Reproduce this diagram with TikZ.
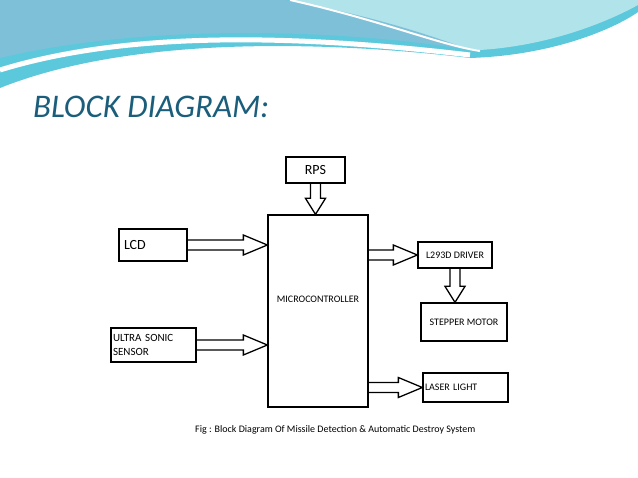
\documentclass[tikz,border=0pt]{standalone}
\usepackage{fontspec}
\setmainfont{Carlito}
\usetikzlibrary{calc}
\definecolor{ttl}{HTML}{1B5E7B}
\definecolor{bA}{HTML}{7FC0D9}
\definecolor{bB}{HTML}{B0E3EA}
\definecolor{bC}{HTML}{5CC8DC}
\newcommand\hArr[2]{\draw[line width=1.3pt] let \p1=(#1), \p2=(#2) in (\x1,\y1+5pt) -- (\x2-24pt,\y1+5pt) -- (\x2-24pt,\y1+10pt) -- (\x2,\y1) -- (\x2-24pt,\y1-10pt) -- (\x2-24pt,\y1-5pt) -- (\x1,\y1-5pt);}
\newcommand\vArr[2]{\draw[line width=1.3pt] let \p1=(#1), \p2=(#2) in (\x1-5pt,\y1) -- (\x1-5pt,\y2+16pt) -- (\x1-10pt,\y2+16pt) -- (\x1,\y2) -- (\x1+10pt,\y2+16pt) -- (\x1+5pt,\y2+16pt) -- (\x1+5pt,\y1);}
\begin{document}
\begin{tikzpicture}[x=1pt,y=-1pt,
  box/.style={draw,line width=1.3pt,rectangle,inner sep=0pt,font=\fontsize{10}{11}\selectfont},
  big/.style={font=\fontsize{14}{15}\selectfont}]
\useasboundingbox[fill=white] (0,0) rectangle (638,478);
% banner
\fill[bC] (0,0) -- (0,88) .. controls (120,40) and (300,38) .. (470,58) .. controls (560,55) and (620,25) .. (638,12) -- (638,0) -- cycle;
\fill[bB] (290,0) .. controls (380,20) and (440,45) .. (480,50) .. controls (560,45) and (620,15) .. (638,5) -- (638,0) -- cycle;
\fill[bA] (0,0) -- (285,0) .. controls (370,15) and (430,35) .. (470,50) .. controls (350,30) and (150,22) .. (0,58) -- cycle;
\draw[white,line width=5pt] (0,70) .. controls (130,30) and (300,35) .. (470,55);
\draw[white,line width=2pt] (290,0) .. controls (380,20) and (440,45) .. (480,51);
\node[anchor=base west,inner sep=0pt,text=ttl,font=\fontsize{33}{36}\selectfont\itshape] (title) at (33,118) {BLOCK DIAGRAM:};
% blocks
\node[box,big,minimum width=59,minimum height=26] (rps) at (315.5,170) {RPS};
\node[box,minimum width=100,minimum height=192] (mc) at (318,311) {};
\node[font=\fontsize{10}{11}\selectfont] (mct) at (318,299) {MICROCONTROLLER};
\node[box,big,minimum width=68,minimum height=32,text width=58,align=left] (lcd) at (153,245) {LCD};
\node[box,minimum width=85,minimum height=34,text width=81,align=left,font=\fontsize{11}{14}\selectfont] (us) at (153.5,345) {ULTRA SONIC\\SENSOR};
\node[box,minimum width=74,minimum height=26] (drv) at (455,255) {L293D DRIVER};
\node[box,minimum width=86,minimum height=38] (stp) at (464,322) {STEPPER MOTOR};
\node[box,minimum width=85,minimum height=29,text width=81,align=left] (las) at (465.5,387.5) {LASER LIGHT};
% arrows
\vArr{rps.south}{rps.south|-mc.north}
\hArr{lcd.east}{mc.west|-lcd.east}
\hArr{us.east}{mc.west|-us.east}
\hArr{mc.east|-drv.west}{drv.west}
\hArr{mc.east|-las.west}{las.west}
\vArr{drv.south}{drv.south|-stp.north}
\node[anchor=base west,inner sep=0pt,font=\fontsize{10}{11}\selectfont] (cap) at (195,433) {Fig : Block Diagram Of Missile Detection \& Automatic Destroy System};
\end{tikzpicture}
\end{document}
